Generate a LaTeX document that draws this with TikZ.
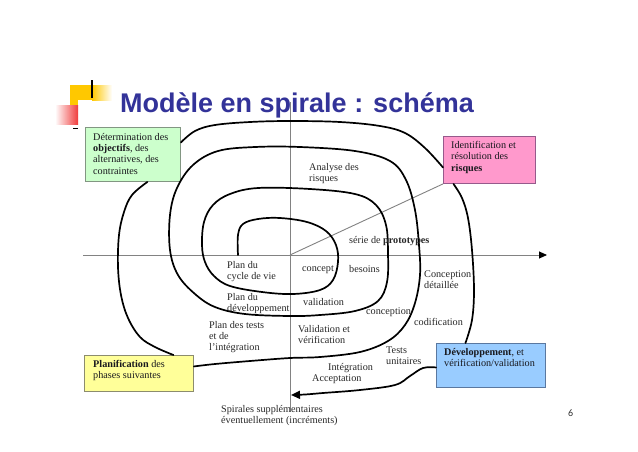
\documentclass[tikz,border=0pt]{standalone}
\usepackage{fontspec}
\setmainfont{Liberation Serif}
\newfontfamily\titlefont{Liberation Sans}
\newfontfamily\numfont{Carlito}
\usetikzlibrary{arrows.meta}
\definecolor{titleblue}{RGB}{51,51,153}
\definecolor{txtgray}{RGB}{40,40,40}
\definecolor{boxtxt}{RGB}{25,25,30}
\definecolor{gfill}{RGB}{204,255,204}
\definecolor{gline}{RGB}{130,150,130}
\definecolor{pfill}{RGB}{255,153,204}
\definecolor{pline}{RGB}{150,90,140}
\definecolor{yfill}{RGB}{255,255,153}
\definecolor{yline}{RGB}{140,140,110}
\definecolor{bfill}{RGB}{153,204,255}
\definecolor{bline}{RGB}{90,120,160}
\definecolor{axisgray}{RGB}{130,130,130}
\definecolor{decoyellow}{RGB}{255,200,0}
\definecolor{decored}{RGB}{240,60,60}
\begin{document}
\begin{tikzpicture}[x=1pt,y=-1pt,
  lbl/.style={font=\fontsize{10.2}{11.4}\selectfont, text=txtgray, inner sep=0pt, anchor=north west, align=left},
  btxt/.style={lbl, text=boxtxt},
  box/.style={draw, line width=0.9pt, inner sep=0pt, anchor=north west},
  spiral/.style={line width=1.7pt, black, line cap=round, line join=round},
  axis/.style={axisgray, line width=0.9pt}]
\useasboundingbox[fill=white] (0,0) rectangle (638,451);

% decoration
\fill[decoyellow] (70,85) rectangle (92,100);
\fill[decoyellow] (70,100) rectangle (78,107);
\shade[left color=decoyellow, right color=white] (92,85) rectangle (112,100);
\shade[left color=white, right color=decored] (55,105) rectangle (78,124);
\draw[black, line width=1.3pt] (92,80) -- (92,98);
\draw[black, line width=1pt] (73,128) -- (78,128);

% title
\node[font=\titlefont\bfseries\fontsize{27}{30}\selectfont, text=titleblue, inner sep=0pt, anchor=base west] (title) at (120,112) {Modèle en spirale : schéma};

% boxes
\node[box, fill=gfill, draw=gline, minimum width=95pt, minimum height=54pt] (obj) at (85,127) {};
\node[box, fill=pfill, draw=pline, minimum width=92pt, minimum height=47pt] (risk) at (443,136) {};
\node[box, fill=yfill, draw=yline, minimum width=109pt, minimum height=36pt] (plan) at (84,355) {};
\node[box, fill=bfill, draw=bline, minimum width=109pt, minimum height=44pt] (dev) at (436,343) {};

\node[btxt] (objt) at (93,132) {\strut Détermination des\\\textbf{objectifs}, des\\alternatives, des\\contraintes};
\node[btxt] (riskt) at (451,140) {\strut Identification et\\résolution des\\[1pt]\textbf{risques}};
\node[btxt] (plant) at (93,359) {\strut\textbf{Planification} des\\phases suivantes};
\node[btxt] (devt) at (444,347) {\strut\textbf{Développement}, et\\vérification/validation};

% axes
\coordinate (hxl) at (83,255);
\coordinate (hxr) at (547,255);
\coordinate (vxt) at (290,102);
\coordinate (vxb) at (290,412);
\coordinate (org) at (290,255);
\draw[axis, -{Triangle[length=8pt,width=7pt,color=black]}] (hxl) -- (hxr);
\draw[axis] (vxt) -- (vxb);
\draw[axis] (org) -- (risk.south west);

% spiral connection points
\coordinate (sp0) at (238,255);
\coordinate (yE) at ([yshift=7pt]plan.east);
\coordinate (yN) at ([xshift=34.5pt]plan.north);
\coordinate (gS) at ([xshift=14.5pt]obj.south);
\coordinate (gE) at ([yshift=12pt]obj.east);
\coordinate (pW) at ([yshift=-7.5pt]risk.west);
\coordinate (pS) at ([xshift=-36pt]risk.south);
\coordinate (bN) at ([xshift=-25.5pt]dev.north);
\coordinate (bW) at ([yshift=-2pt]dev.west);
\coordinate (tip) at (291,395);

\draw[spiral] plot[smooth, tension=0.6] coordinates {(sp0) (238,235) (243,224) (258,219) (280,218) (307,222) (326,231) (336,245) (338,262) (333,280) (320,290) (293,294) (262,292) (230,286) (214,276) (205,262) (202,245) (204,222) (213,205) (230,194) (258,188) (310,189) (355,194) (376,205) (386,225) (388,253) (387,282) (378,301) (355,311) (320,315) (290,316) (245,314) (215,307) (195,294) (178,275) (170,250) (170,215) (177,188) (193,165) (218,151) (255,147) (300,147) (355,151) (390,161) (406,180) (415,210) (419,245) (420,275) (415,303) (405,325) (388,341) (360,352) (320,357) (290,358) (250,361) (215,364) (yE)};
\draw[spiral] plot[smooth, tension=0.6] coordinates {(yN) (155,347) (140,337) (128,318) (121,295) (118,267) (119,235) (124,212) (132,195) (gS)};
\draw[spiral] plot[smooth, tension=0.6] coordinates {(gE) (195,131) (215,125) (250,122) (290,121) (340,122) (380,126) (405,133) (425,148) (pW)};
\draw[spiral] plot[smooth, tension=0.6] coordinates {(pS) (462,198) (468,218) (472,250) (474,290) (472,320) (bN)};
\draw[spiral, -{Triangle[length=9pt,width=8pt]}] plot[smooth, tension=0.6] coordinates {(bW) (423,368) (410,376) (395,385) (360,390) (323,393) (305,394.5) (tip)};

% labels
\node[lbl] (l1) at (309,162) {\strut Analyse des\\risques};
\node[lbl] (l2) at (349,235) {\strut série de \textbf{prototypes}};
\node[lbl] (l3) at (227,260) {\strut Plan du\\cycle de vie};
\node[lbl] (l4) at (302,263) {\strut concept};
\node[lbl] (l5) at (349,264) {\strut besoins};
\node[lbl] (l6) at (424,269) {\strut Conception\\détaillée};
\node[lbl] (l7) at (227,292) {\strut Plan du\\développement};
\node[lbl] (l8) at (303,297) {\strut validation};
\node[lbl] (l9) at (366,306) {\strut conception};
\node[lbl] (l10) at (414,317) {\strut codification};
\node[lbl] (l11) at (209,320) {\strut Plan des tests\\et de\\l'intégration};
\node[lbl] (l12) at (298,324) {\strut Validation et\\vérification};
\node[lbl] (l13) at (386,345) {\strut Tests\\unitaires};
\node[lbl] (l14) at (328,362) {\strut Intégration};
\node[lbl] (l15) at (312,373) {\strut Acceptation};
\node[lbl] (l16) at (221,404) {\strut Spirales supplémentaires\\éventuellement (incréments)};

\node[font=\numfont\fontsize{10}{12}\selectfont, text=black!80, inner sep=0pt, anchor=base west] (pnum) at (568,416) {6};
\end{tikzpicture}
\end{document}
